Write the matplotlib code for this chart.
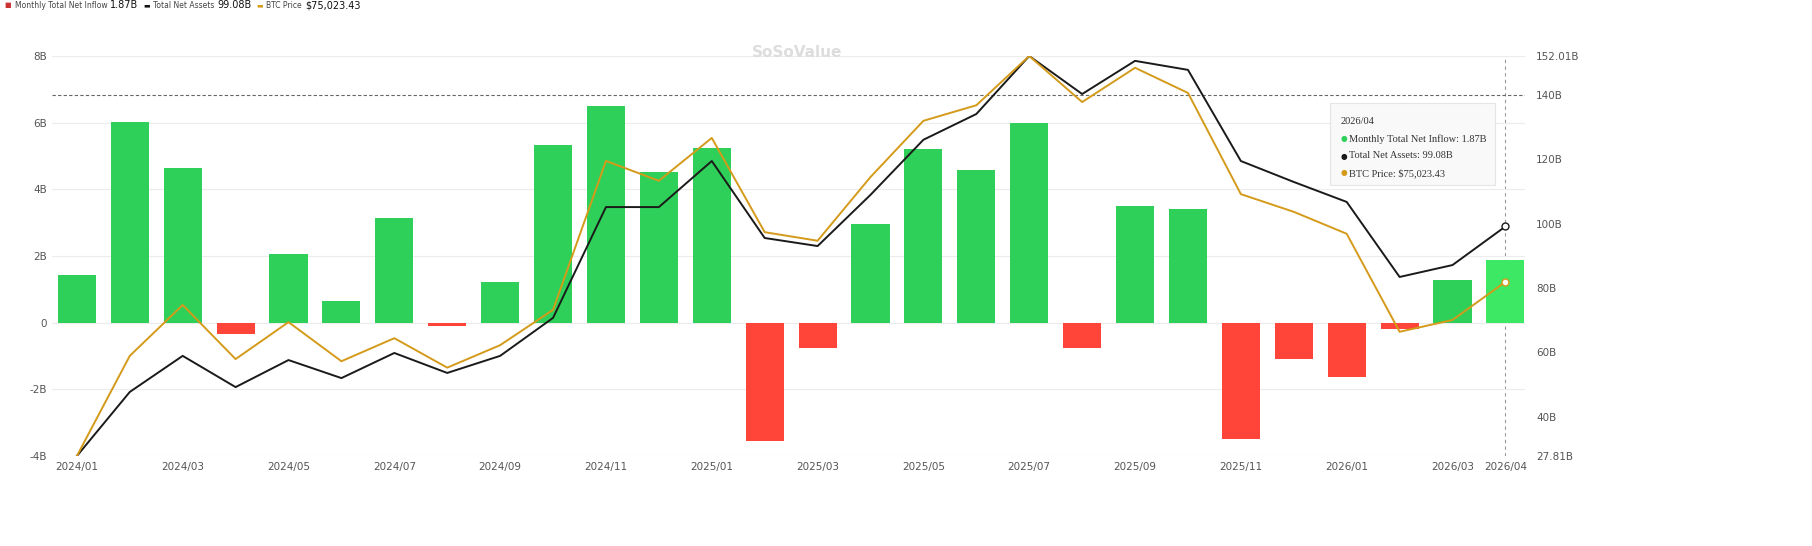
import matplotlib.pyplot as plt
import numpy as np

months = ["2024/01", "2024/02", "2024/03", "2024/04", "2024/05", "2024/06", "2024/07",
          "2024/08", "2024/09", "2024/10", "2024/11", "2024/12", "2025/01", "2025/02",
          "2025/03", "2025/04", "2025/05", "2025/06", "2025/07", "2025/08", "2025/09",
          "2025/10", "2025/11", "2025/12", "2026/01", "2026/02", "2026/03", "2026/04"]
inflow = [1.44, 6.03, 4.65, -0.35, 2.07, 0.66, 3.15, -0.10, 1.23, 5.34, 6.50, 4.53,
          5.25, -3.54, -0.75, 2.97, 5.22, 4.59, 6.00, -0.75, 3.51, 3.42, -3.48, -1.08,
          -1.62, -0.20, 1.29, 1.87]
net_assets = [27.81, 47.7, 58.9, 49.2, 57.6, 52.0, 59.8, 53.6, 58.9, 70.7, 105.1, 105.1,
              119.4, 95.5, 93.0, 108.9, 126.0, 134.0, 152.01, 140.2, 150.5, 147.7, 119.4,
              112.9, 106.7, 83.4, 87.1, 99.08]
btc_price = [42.5, 61.2, 70.7, 60.6, 67.5, 60.2, 64.5, 59.0, 63.2, 69.8, 97.6, 93.9,
             101.9, 84.3, 82.7, 94.6, 105.1, 108.0, 117.2, 108.6, 115.0, 110.3, 91.4,
             88.1, 84.0, 65.7, 67.9, 75.02]

x = np.arange(len(months))
fig = plt.figure(figsize=(18.12, 5.46), dpi=100)
ax = fig.add_axes([52 / 1812, 1 - 456 / 546, (1525 - 52) / 1812, 400 / 546])

colors = ["#2fd05a" if v >= 0 else "#ff453a" for v in inflow]
colors[-1] = "#3de865"
ax.bar(x, inflow, width=0.72, color=colors, zorder=2)
ax.set_ylim(-4, 8)
ax.set_yticks([-4, -2, 0, 2, 4, 6, 8])
ax.set_yticklabels(["-4B", "-2B", "0", "2B", "4B", "6B", "8B"])
ax.grid(axis="y", color="#ececec", lw=0.8, zorder=0)
ax.set_xlim(-0.47, 27.37)
ticks = list(range(0, 28, 2)) + [27]
ax.set_xticks(ticks)
ax.set_xticklabels([months[i] for i in ticks])
for s in ax.spines.values():
    s.set_visible(False)
ax.tick_params(length=0, labelsize=7.5, colors="#555555")
ax.tick_params(axis="x", pad=4)

ax2 = ax.twinx()
ax2.plot(x, net_assets, color="#1a1a1a", lw=1.4, zorder=4)
ax2.plot(x[-1], net_assets[-1], "o", mfc="white", mec="#1a1a1a", ms=5, zorder=5)
ax2.set_ylim(27.81, 152.01)
ax2.set_yticks([27.81, 40, 60, 80, 100, 120, 140, 152.01])
ax2.set_yticklabels(["27.81B", "40B", "60B", "80B", "100B", "120B", "140B", "152.01B"])
ax2.axhline(140, color="#666666", lw=0.8, ls=(0, (3, 2)))
for s in ax2.spines.values():
    s.set_visible(False)
ax2.tick_params(length=0, labelsize=7.5, colors="#555555", pad=8)

ax3 = ax.twinx()
ax3.plot(x, btc_price, color="#d49a1a", lw=1.4, zorder=4)
ax3.plot(x[-1], btc_price[-1], "o", mfc="white", mec="#d49a1a", ms=5, zorder=5)
ax3.set_ylim(42.5, 117.2)
ax3.axis("off")

ax.axvline(27, color="#999999", lw=0.8, ls=(0, (3, 3)), zorder=1)

fig.text(0.415, 0.895, "SoSoValue", color="#dddddd", fontsize=11, fontweight="bold")

# tooltip
fig.patches.append(plt.Rectangle((1330 / 1812, 1 - 185 / 546), 165 / 1812, 82 / 546,
                                 transform=fig.transFigure, fc="#f9f9f9", ec="#e5e5e5",
                                 lw=0.8, zorder=10))
tt = [("2026/04", None), ("Monthly Total Net Inflow: 1.87B", "#2fd05a"),
      ("Total Net Assets: 99.08B", "#1a1a1a"), ("BTC Price: $75,023.43", "#d49a1a")]
for i, (t, c) in enumerate(tt):
    yy = 1 - (122 + i * 17) / 546
    if c:
        fig.text(1341 / 1812, yy, "●", color=c, fontsize=5.5, va="center", zorder=11)
        fig.text(1349 / 1812, yy, t, fontsize=7.5, family="Liberation Serif", va="center",
                 color="#333333", zorder=11)
    else:
        fig.text(1341 / 1812, yy, t, fontsize=7.5, family="Liberation Serif", va="center",
                 color="#333333", zorder=11)

# legend on top, placed left to right
renderer = fig.canvas.get_renderer()
cursor = 4
legend_parts = [("■", "#cc3333", 5, 4), ("Monthly Total Net Inflow", "#444444", 5.5, 3),
                ("1.87B", "#111111", 7, 5), ("▬", "#111111", 5, 3),
                ("Total Net Assets", "#444444", 5.5, 3), ("99.08B", "#111111", 7, 5),
                ("▬", "#d49a1a", 5, 3), ("BTC Price", "#444444", 5.5, 3),
                ("$75,023.43", "#111111", 7, 0)]
for t, c, fs, gap in legend_parts:
    txt = fig.text(cursor / 1812, 1 - 5 / 546, t, color=c, fontsize=fs, va="center")
    cursor += txt.get_window_extent(renderer).width + gap

fig.savefig("out.png", dpi=100)
